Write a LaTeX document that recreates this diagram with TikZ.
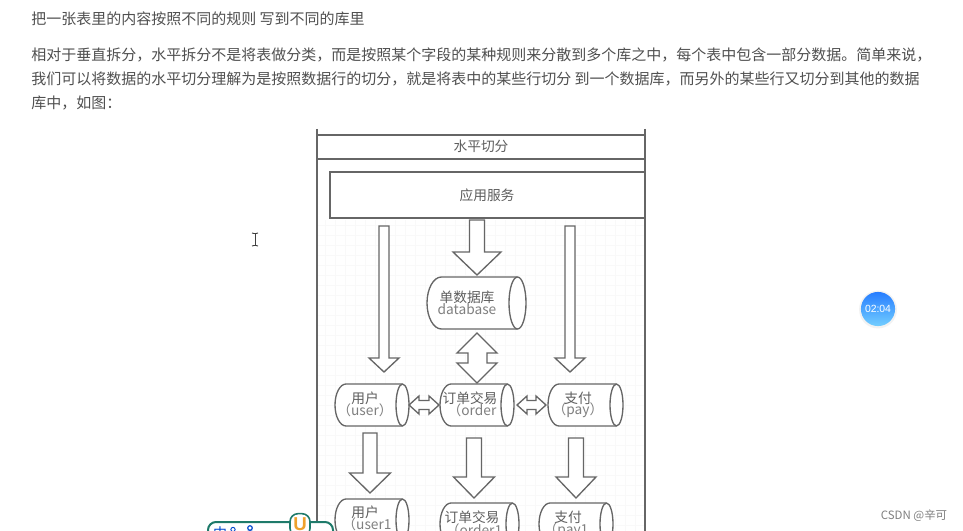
\documentclass[tikz,border=0pt]{standalone}
\usepackage{fontspec}
\setmainfont{Noto Sans CJK SC}
\newfontfamily\latinf{Liberation Sans}
\definecolor{ink}{HTML}{505050}
\definecolor{figline}{HTML}{666666}
\definecolor{figtext}{HTML}{5E5E5E}
\definecolor{figlatin}{HTML}{808080}
\definecolor{gridc}{HTML}{F9F9F9}
\definecolor{teal}{HTML}{1E7A6A}
\definecolor{badge}{HTML}{EFA12C}
\tikzset{
  para/.style={anchor=west,inner sep=0pt,text=ink,font=\fontsize{11.25}{13}\selectfont},
  figlabel/.style={inner sep=0pt,text=figtext,font=\fontsize{10.3}{12}\selectfont},
  cjklabel/.style={inner sep=0pt,text=figtext,font=\fontsize{10.3}{12}\selectfont},
  latlabel/.style={inner sep=0pt,text=figlatin,font=\fontsize{10.3}{12}\selectfont},
  figstroke/.style={draw=figline,line width=1pt,line join=miter},
  blockstroke/.style={draw=figline,line width=1pt,fill=white,line join=miter},
}
% cylinder lying on its side: name, x1, x2, y1, y2, end radius
\newcommand{\sidecyl}[6]{%
  \pgfmathsetmacro{\ym}{(#4+#5)/2}%
  \pgfmathsetmacro{\hh}{(#5-#4)/2}%
  \pgfmathsetmacro{\lr}{1.7*#6}%
  \draw[blockstroke] ({#2+\lr},#4) -- ({#3-#6},#4)
     .. controls ({#3-0.45*#6},#4) and (#3,{\ym-0.55*\hh}) .. (#3,\ym)
     .. controls (#3,{\ym+0.55*\hh}) and ({#3-0.45*#6},#5) .. ({#3-#6},#5)
     -- ({#2+\lr},#5)
     .. controls ({#2+0.45*\lr},#5) and (#2,{\ym+0.55*\hh}) .. (#2,\ym)
     .. controls (#2,{\ym-0.55*\hh}) and ({#2+0.45*\lr},#4) .. ({#2+\lr},#4) -- cycle;
  \draw[blockstroke,fill=none] ({#3-#6},#4)
     .. controls ({#3-1.55*#6},#4) and ({#3-2*#6},{\ym-0.55*\hh}) .. ({#3-2*#6},\ym)
     .. controls ({#3-2*#6},{\ym+0.55*\hh}) and ({#3-1.55*#6},#5) .. ({#3-#6},#5);
  \coordinate (#1) at ({(#2+#3)/2},\ym);
}
% down block arrow: cx, top, shaft half, wing half, wing y, tip y
\newcommand{\blockdown}[6]{%
  \draw[blockstroke] ({#1-#3},#2) -- ({#1+#3},#2) -- ({#1+#3},#5) -- ({#1+#4},#5)
    -- (#1,#6) -- ({#1-#4},#5) -- ({#1-#3},#5) -- cycle;
}
\begin{document}
\begin{tikzpicture}[x=0.75pt,y=-0.75pt]
\useasboundingbox (0,0) rectangle (963,531);
\clip (0,0) rectangle (963,531);
\fill[white] (0,0) rectangle (963,531);

% page text
\node[para] (l1) at (31,19) {把一张表里的内容按照不同的规则 写到不同的库里};
\node[para] (l2) at (31,55) {相对于垂直拆分，水平拆分不是将表做分类，而是按照某个字段的某种规则来分散到多个库之中，每个表中包含一部分数据。简单来说，};
\node[para] (l3) at (31,79) {我们可以将数据的水平切分理解为是按照数据行的切分，就是将表中的某些行切分 到一个数据库，而另外的某些行又切分到其他的数据};
\node[para] (l4) at (31,103) {库中，如图：};

% faint grid of the figure
\foreach \gx in {325,335,...,645} \draw[gridc,line width=0.4pt] (\gx,220) -- (\gx,531);
\foreach \gy in {225,235,...,531} \draw[gridc,line width=0.4pt] (318,\gy) -- (645,\gy);

% frame
\draw[figstroke] (317,129) -- (317,531);
\draw[figstroke] (645,129) -- (645,531);
\draw[figstroke] (317,135) -- (645,135);
\draw[figstroke] (317,159) -- (645,159);
\node[figlabel] (title) at (481,146) {水平切分};

% application box
\draw[figstroke] (330,172) rectangle (645,218);
\node[figlabel] (app) at (487,195) {应用服务};

% arrows from the application box
\blockdown{384}{226}{5}{15}{358}{372}
\blockdown{570}{226}{5}{15}{358}{372}
\blockdown{477}{220}{7.5}{24}{252}{275}

% single database
\sidecyl{db}{427}{526}{277}{329}{8.5}
\node[cjklabel] (dbcn) at (467,297) {单数据库};
\node[latlabel] (dben) at (467,309) {database};

% vertical double arrow
\draw[blockstroke] (477,333) -- (497,353) -- (487,353) -- (487,363) -- (497,363) -- (477,383)
  -- (457,363) -- (468,363) -- (468,353) -- (457,353) -- cycle;

% second row
\sidecyl{user}{335}{409}{384}{426}{6.5}
\sidecyl{order}{440}{514}{384}{426}{6.5}
\sidecyl{pay}{548}{623}{384}{426}{6.5}
\node[cjklabel] (usercn) at (365,398) {用户};
\node[latlabel] (useren) at (365,410) {（user）};
\node[cjklabel] (ordercn) at (470,398) {订单交易};
\node[latlabel] (orderen) at (472,410) {（order};
\node[cjklabel] (paycn) at (578,398) {支付};
\node[latlabel] (payen) at (578,410) {（pay）};

% horizontal double arrows
\draw[blockstroke] (409,405) -- (419,396) -- (419,400.5) -- (429,400.5) -- (429,396) -- (439,405)
  -- (429,414) -- (429,409.5) -- (419,409.5) -- (419,414) -- cycle;
\draw[blockstroke] (517,405) -- (527,396) -- (527,400.5) -- (536,400.5) -- (536,396) -- (546,405)
  -- (536,414) -- (536,409.5) -- (527,409.5) -- (527,414) -- cycle;

% arrows to the third row
\blockdown{370}{433}{7}{20.5}{473}{493}
\blockdown{474}{438}{7.5}{20.5}{477}{498}
\blockdown{576}{438}{7.5}{20}{477}{498}

% third row
\sidecyl{userb}{335}{409}{499}{541}{6.5}
\sidecyl{orderb}{440}{519}{503}{545}{6.5}
\sidecyl{payb}{539}{613}{503}{545}{6.5}
\node[cjklabel] (userbcn) at (365,512) {用户};
\node[latlabel] (userben) at (367,524) {（user1};
\node[cjklabel] (orderbcn) at (472,517) {订单交易};
\node[latlabel] (orderben) at (474,530) {（order1};
\node[cjklabel] (paybcn) at (568,517) {支付};
\node[latlabel] (paybn) at (566,530) {（pay1};

% text cursor
\draw[black!75,line width=0.7pt] (255,234) -- (255,245);
\draw[black!75,line width=0.7pt] (252,233) -- (254,233.5) -- (256,233.5) -- (258,233);
\draw[black!75,line width=0.7pt] (252,246) -- (254,245.5) -- (256,245.5) -- (258,246);

% timer badge
\fill[black!5] (878,309.5) circle (14.2pt);
\shade[top color=blue!60!cyan!85,bottom color=cyan!65!blue!55] (878,309) circle (12.8pt);
\node[inner sep=0pt,text=white,font=\latinf\fontsize{7.8}{9}\selectfont] (timer) at (878,309) {02:04};

% watermark
\node[inner sep=0pt,text=black!50,font=\fontsize{8.6}{10}\selectfont] (mark) at (914,516) {CSDN @辛可};

% input-method widget
\draw[teal,line width=1.5pt,fill=white,rounded corners=6pt] (208,522) rectangle (333,545);
\node[inner sep=0pt,text=blue!65!cyan!80!black,font=\fontsize{10.5}{12}\selectfont] (ime) at (220,533) {中};
\draw[blue!65!cyan!80!black,line width=0.7pt] (233,529.5) circle (1.6pt);
\draw[blue!65!cyan!80!black,line width=0.9pt] (250,528) circle (1.7pt);
\draw[blue!65!cyan!80!black,line width=1pt] (245,534) .. controls (246,530) and (254,530) .. (255,534);
\node[fill=white,draw=teal,line width=1.2pt,rounded corners=6pt,minimum width=15pt,minimum height=17pt,inner sep=0pt] (ubox) at (300,525) {};
\node[inner sep=0pt,text=badge,font=\latinf\bfseries\fontsize{14}{14}\selectfont] (u) at (300,524) {U};
\end{tikzpicture}
\end{document}
